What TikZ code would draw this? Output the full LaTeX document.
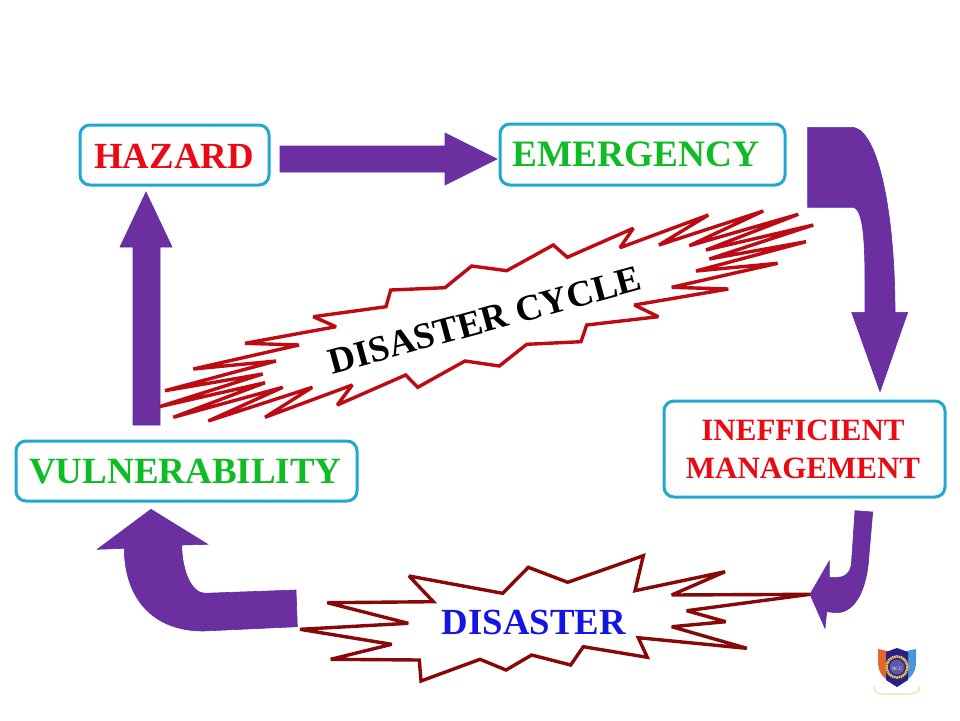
\documentclass[tikz,border=0pt]{standalone}
\usepackage{fontspec}
\setmainfont{Liberation Serif}
\definecolor{arrowpurple}{HTML}{6B2FA0}
\definecolor{arrowedge}{HTML}{5A2DB0}
\definecolor{boxblue}{HTML}{1FA9D2}
\definecolor{burstred}{HTML}{BE0A12}
\definecolor{burstdark}{HTML}{860808}
\definecolor{textred}{HTML}{EA0A14}
\definecolor{textgreen}{HTML}{10BC26}
\definecolor{textblue}{HTML}{1414E4}
\definecolor{emblemorange}{HTML}{E0662E}
\definecolor{emblemblue}{HTML}{4A94DC}
\definecolor{emblemnavy}{HTML}{2A1E8C}
\definecolor{emblemgold}{HTML}{E8C83A}
\definecolor{emblemcream}{HTML}{EFE9BE}
\tikzset{
  blockarrow/.style={fill=arrowpurple,draw=arrowedge,line width=0.6pt,line join=miter},
  stagebox/.style={draw=boxblue,line width=3pt,rounded corners=10pt,fill=white,inner sep=0pt},
  stagetext/.style={font=\bfseries,inner sep=0pt,align=center},
  burst/.style={fill=white,line width=3.4pt,line join=miter,miter limit=3},
}
\begin{document}
\begin{tikzpicture}[x=1pt,y=-1pt]
\useasboundingbox[fill=white] (0,0) rectangle (960,720);

% stage boxes
\node[stagebox,minimum width=189pt,minimum height=60pt] (hazardbox) at (174.5,155) {};
\node[stagebox,minimum width=285pt,minimum height=61pt] (emergencybox) at (642.5,154.5) {};
\node[stagebox,minimum width=281pt,minimum height=96pt] (ineffbox) at (804.5,449) {};
\node[stagebox,minimum width=341pt,minimum height=60pt] (vulnbox) at (186.5,471) {};

\node[stagetext,text=textred,font=\fontsize{36.8}{40}\bfseries\selectfont] (hazard) at (174,156) {HAZARD};
\node[stagetext,text=textgreen,font=\fontsize{37.3}{42}\bfseries\selectfont] (emergency) at (636,154) {EMERGENCY};
\node[stagetext,text=textred,font=\fontsize{31}{38}\bfseries\selectfont] (ineff) at (803,449) {INEFFICIENT\\MANAGEMENT};
\node[stagetext,text=textgreen,font=\fontsize{37}{40}\bfseries\selectfont] (vuln) at (185.5,472) {VULNERABILITY};

% block arrows
\path[blockarrow] (280,146) -- (445,146) -- (445,133) -- (497,159) -- (445,185) -- (445,172) -- (280,172) -- cycle;
\path[blockarrow] (133,425) -- (133,247) -- (120,247) -- (146,192) -- (172,247) -- (160,247) -- (160,425) -- cycle;
\path[blockarrow] (807.7,127.3) -- (853.3,127.3) .. controls (880,132) and (895,220) .. (895,312.3) -- (907.7,312.3) -- (880,391.7) -- (851.7,312.3) -- (865,312.3) .. controls (865,260) and (866,210) .. (853.3,207.3) -- (807.7,207.3) -- cycle;
\path[blockarrow] (855,510.7) -- (872.7,512) -- (869,555) .. controls (867,590) and (855,612.5) .. (836.7,612.7) -- (826.7,611.7) -- (825,628.3) -- (810,594.3) -- (829.3,561) -- (829.3,577.3) -- (838.3,577.3) .. controls (847,577) and (851.7,570) .. (851.7,560) -- cycle;
\path[blockarrow] (296,590) -- (297.3,626.7) -- (203.3,631) .. controls (150,631) and (124.3,595) .. (124.3,548.3) -- (97.3,549.3) -- (151,509.3) -- (207.7,544.3) -- (181.7,545) .. controls (182,572) and (192,593.3) .. (205,593.3) -- cycle;

% bursts
\path[burst,draw=burstred] (245,343.3) -- (336,326.7) -- (313.3,316.7) -- (386,306.7) -- (390.7,290) -- (445,287.7) -- (471.7,266) -- (506.7,270.7) -- (553.3,245) -- (567.3,257.3) -- (633.3,228.3) -- (620,247.7) -- (708.3,215) -- (659,245) -- (763.3,211) -- (689.3,245.7) -- (798.3,214.3) -- (706,250) -- (813.3,225) -- (709.3,259) -- (806,241.7) -- (696,271) -- (777.7,263.3) -- (671.7,287.3) -- (728.3,289) -- (634.3,305) -- (658.3,316.7) -- (586.7,325) -- (581,341.7) -- (526.7,344.3) -- (499.3,366) -- (465,361) -- (417.7,387.3) -- (405.7,375) -- (337.3,405) -- (352.3,385) -- (265,417.3) -- (312.3,387.3) -- (208.3,421) -- (282.7,387.3) -- (173.3,417.3) -- (265,382.7) -- (159.3,406.7) -- (262.7,374) -- (165,390.7) -- (276,361) -- (193.3,369) -- (299,345) -- cycle;
\node[stagetext,font=\fontsize{36.8}{40}\bfseries\selectfont,rotate=15.3] (cycle) at (485,320) {DISASTER CYCLE};

\path[burst,draw=burstdark] (409,576) -- (502.7,593.3) -- (528.3,567.3) -- (567.7,582.3) -- (643.3,555.7) -- (635,590.7) -- (725,571.7) -- (671.7,595) -- (810,594.3) -- (686.7,610.7) -- (725.7,621.7) -- (671.7,626.7) -- (746.7,648.3) -- (638.3,637.7) -- (647.3,657.3) -- (583.3,646.7) -- (570.7,665) -- (531.7,655) -- (506,670) -- (480,659.3) -- (421,681) -- (419.3,660) -- (330.7,659.3) -- (391.7,644.3) -- (300,629.3) -- (408.3,623.3) -- (327.3,602.7) -- (433.3,601.7) -- cycle;
\node[stagetext,text=textblue,font=\fontsize{36.8}{40}\bfseries\selectfont] (disaster) at (534,622) {DISASTER};

% emblem
\fill[emblemorange] (878,649) -- (897,653) -- (897,686) -- (885,678) .. controls (879,673) and (878,668) .. (878,660) -- cycle;
\fill[emblemblue] (916,649) -- (897,653) -- (897,686) -- (909,678) .. controls (915,673) and (916,668) .. (916,660) -- cycle;
\fill[emblemnavy] (897,648) -- (908,652) -- (908,680) -- (897,687) -- (886,680) -- (886,652) -- cycle;
\draw[emblemgold,line width=2.6pt,dash pattern=on 1.6pt off 0.6pt] (897,667) circle (10.5pt);
\fill[emblemnavy!75!white] (897,667) circle (7.5pt);
\node[inner sep=0pt,text=white,font=\fontsize{5}{5}\selectfont] (ncc) at (897,669) {NCC};
\draw[emblemcream,line width=1.6pt,rounded corners=2pt] (874,686) -- (875,692) -- (882,694) -- (910,694) -- (919,692) -- (919,686);
\end{tikzpicture}
\end{document}
